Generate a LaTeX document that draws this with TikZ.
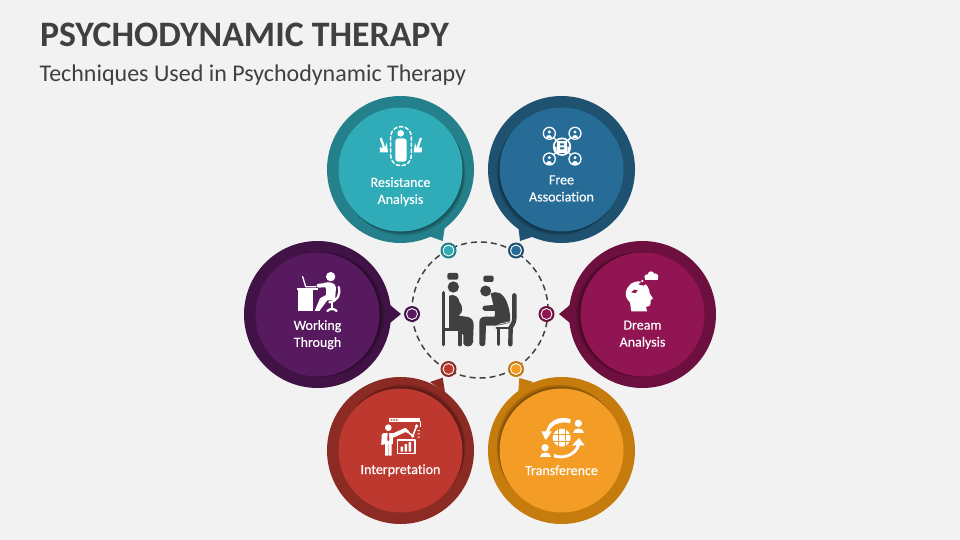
\documentclass[tikz,border=0pt]{standalone}
\usepackage{fontspec}
\setmainfont{Carlito}
\newfontfamily\labfont[FakeBold=0.25,Ligatures=NoCommon]{Carlito}
\usetikzlibrary{calc}
\definecolor{bg}{HTML}{F2F2F2}
\definecolor{ink}{HTML}{404040}
\definecolor{tealO}{HTML}{24808A}\definecolor{tealI}{HTML}{2FACB8}
\definecolor{blueO}{HTML}{1E5270}\definecolor{blueI}{HTML}{276C96}
\definecolor{purpO}{HTML}{411245}\definecolor{purpI}{HTML}{581A5F}
\definecolor{wineO}{HTML}{6E103F}\definecolor{wineI}{HTML}{921553}
\definecolor{redO}{HTML}{8C2A24}\definecolor{redI}{HTML}{BD382E}
\definecolor{orO}{HTML}{C67B0D}\definecolor{orI}{HTML}{F39D26}
\tikzset{
  ring/.style={circle,minimum size=147pt,inner sep=0pt,outer sep=0pt,fill=#1},
  disc/.style={circle,minimum size=124pt,inner sep=0pt,outer sep=0pt,fill=#1},
  blabel/.style={text=white,align=center,inner sep=0pt,font=\labfont\fontsize{14}{17}\selectfont},
  icon/.style={shift={#1},x=0.3333pt,y=-0.3333pt,line cap=round,line join=round},
  wl/.style={draw=white,line width=#1},
  dk/.style={draw=ink,line width=#1,line cap=round},
}
% name, cx, cy, outer, inner, tail a, tip, tail b, shadow offset
\newcommand{\bubble}[9]{%
  \node[ring=#4] (#1) at (#2,#3) {};
  \fill[#4] #6 -- #7 -- #8 -- cycle;
  \coordinate (#1s) at ($(#2,#3)+(#9)$);
  \foreach \s in {0.14,0.28,0.42,0.56,0.7,0.85,1}{
    \fill[black,opacity=0.06] ($(#2,#3)!\s!(#1s)$) circle (62);
  }
  \node[disc=#5] (#1i) at (#2,#3) {};
}
\newcommand{\marker}[5]{%
  \node[circle,fill=#4,minimum size=16pt,inner sep=0pt] (#1) at (#2,#3) {};
  \node[circle,fill=#5,draw=white,line width=0.9pt,minimum size=11pt,inner sep=0pt] (#1c) at (#2,#3) {};
}
\newcommand{\usr}[3]{% head centre x,y, colour
  \fill[#3] (#1,#2) circle (5);
  \fill[#3] ($(#1,#2)+(-9,18)$) .. controls ($(#1,#2)+(-9,7)$) and ($(#1,#2)+(9,7)$) .. ($(#1,#2)+(9,18)$) -- cycle;
}
\begin{document}
\begin{tikzpicture}[x=1pt,y=-1pt]
\useasboundingbox (0,0) rectangle (960,540);
\fill[bg] (0,0) rectangle (960,540);
\node[anchor=base west,inner sep=0pt,text=ink,font=\fontsize{35.8}{40}\selectfont\bfseries] (title) at (40,46.4) {PSYCHODYNAMIC THERAPY};
\node[anchor=base west,inner sep=0pt,text=ink,font=\fontsize{24}{28}\selectfont] (subtitle) at (39.5,82) {Techniques Used in Psychodynamic Therapy};

\bubble{res}{400.5}{169.5}{tealO}{tealI}{(445,226)}{(442.7,241)}{(430,236.5)}{3,4}
\bubble{fre}{561.5}{169.5}{blueO}{blueI}{(518.3,226)}{(520,241)}{(533.3,236.5)}{-3,4}
\bubble{wor}{317.5}{314.5}{purpO}{purpI}{(390,305)}{(401,314)}{(390,323)}{5,0}
\bubble{dre}{642.5}{314.5}{wineO}{wineI}{(570,305)}{(559,314)}{(570,323)}{-5,0}
\bubble{int}{400.5}{450.5}{redO}{redI}{(430,382)}{(442.7,377.7)}{(445,392)}{3,-4}
\bubble{tra}{561.5}{450.5}{orO}{orI}{(533.3,382)}{(519.3,378)}{(518.3,392)}{-3,-4}

\node[blabel] (resT) at (400.5,191.7) {Resistance\\Analysis};
\node[blabel] (freT) at (561.5,188.5) {Free\\Association};
\node[blabel] (worT) at (317.5,334.7) {Working\\Through};
\node[blabel] (dreT) at (642.5,334.7) {Dream\\Analysis};
\node[blabel,anchor=base] (intT) at (400.5,474) {Interpretation};
\node[blabel,anchor=base] (traT) at (561.5,475) {Transference};

% hub
\node[circle,draw=ink,line width=1.5pt,dash pattern=on 6pt off 4pt,minimum size=136pt,inner sep=0pt] (hub) at (480,310) {};
\marker{m1}{448.5}{250.5}{tealO}{tealI}
\marker{m2}{516}{250.5}{blueO}{blueI}
\marker{m3}{412}{314}{purpO}{purpI}
\marker{m4}{546.5}{314}{wineO}{wineI}
\marker{m5}{448.5}{369}{redO}{redI}
\marker{m6}{516}{369}{orO}{orI}

% centre figures
\begin{scope}[icon={(400,235)}]
  \fill[ink,rounded corners=2pt] (142,114) rectangle (175,134);
  \fill[ink] (160,156) circle (17);
  \draw[dk=3.6pt] (131,173) -- (131,329);
  \draw[dk=2.6pt] (134,284) -- (175,284);
  \draw[dk=3.6pt] (180,290) -- (180,329);
  \fill[ink] (147,182) .. controls (165,174) and (178,190) .. (178,200)
     .. controls (190,215) and (190,232) .. (176,242)
     -- (204,246) .. controls (216,250) and (221,258) .. (221,270)
     -- (219,322) .. controls (217,338) and (192,338) .. (190,325) -- (190,300)
     .. controls (185,292) and (165,282) .. (147,280) -- cycle;
  % right
  \fill[ink,rounded corners=2pt] (250,122) rectangle (281,141);
  \fill[ink] (257,168) circle (16.5);
  \fill[ink] (272,176) .. controls (290,165) and (310,175) .. (320,200)
     .. controls (330,225) and (332,250) .. (330,262)
     .. controls (315,268) and (300,270) .. (285,272)
     -- (258,272) -- (256,328) .. controls (252,336) and (240,336) .. (238,326)
     -- (238,262) .. controls (238,250) and (245,245) .. (258,245)
     -- (284,245) -- (285,228) -- (255,228) .. controls (245,225) and (245,213) .. (255,212)
     -- (280,210) -- cycle;
  \draw[dk=4.4pt] (343,181) -- (343,250) .. controls (343,265) and (335,270) .. (332,278) -- (331,328);
  \draw[dk=2.6pt] (290,279) -- (334,279);
  \draw[dk=3.6pt] (295,283) -- (295,328);
  \draw[bg,line width=0.6pt] (296,268) -- (330,260);
\end{scope}

% Resistance icon
\begin{scope}[icon={(370,120)}]
  \fill[white] (92,40) circle (10);
  \fill[white,rounded corners=3pt] (76,55) rectangle (110,125);
  \draw[white,line width=1.5pt,dash pattern=on 3.5pt off 2.5pt,rounded corners=10pt] (62,20) rectangle (124,137);
  \draw[wl=2.2pt,line cap=butt] (32,54) -- (44,88);
  \fill[white] (29,82) -- (45,84) -- (50,68) -- (54,97) -- (30,97) -- cycle;
  \draw[wl=2.2pt,line cap=butt] (153,54) -- (141,88);
  \fill[white] (156,82) -- (140,84) -- (135,68) -- (131,97) -- (155,97) -- cycle;
\end{scope}

% Free association icon
\begin{scope}[icon={(532,120)}]
  \draw[wl=1.3pt] (52,40) -- (129,117) (129,40) -- (52,117);
  \foreach \p in {(52,40),(129,40),(52,117),(129,117)}{
    \fill[blueI] \p circle (18);
    \draw[wl=1.3pt] \p circle (18);
  }
  \usr{52}{36}{white}
  \usr{129}{36}{white}
  \usr{52}{113}{white}
  \usr{129}{113}{white}
  \fill[blueI] (90,80) circle (25);
  \draw[wl=1.7pt] (90,80) circle (25);
  \fill[white] (76,64) rectangle (104,98);
  \fill[blueI] (84,70) rectangle (96,76) (84,82) rectangle (96,88);
  \fill[white] (66,80) rectangle (74,96) (106,80) rectangle (114,96);
\end{scope}

% Working icon
\begin{scope}[icon={(290,265)}]
  \fill[white] (122,35) circle (14);
  \fill[white] (20,68) rectangle (85,75);
  \fill[white] (23,75) rectangle (70,138);
  \draw[wl=1.3pt] (38,35) -- (47,65) -- (78,65);
  \draw[wl=4pt] (86,62) -- (112,60);
  \fill[white] (100,54) .. controls (120,48) and (137,54) .. (138,68) -- (135,106)
     -- (112,106) -- (88,138) -- (74,138) -- (90,100) -- (108,90) -- (108,72) -- cycle;
  \draw[wl=2.2pt] (146,66) .. controls (152,88) and (144,108) .. (118,112) ;
  \draw[wl=2.2pt] (126,112) -- (126,132);
  \draw[wl=2.2pt] (112,138) .. controls (118,130) and (134,130) .. (140,138);
\end{scope}

% Dream icon
\begin{scope}[icon={(615,265)}]
  \fill[white] (50,55) .. controls (30,70) and (25,95) .. (45,112) -- (49,139) -- (96,139) -- (93,125)
     .. controls (103,125) and (108,122) .. (107,106) -- (114,100) -- (104,85)
     .. controls (102,55) and (75,40) .. (50,55) -- cycle;
  \fill[wineI] (48,82) -- (58,74) -- (68,76) -- (62,84) -- cycle;
  \fill[wineI] (70,58) -- (80,50) -- (96,54) -- (86,62) -- cycle;
  \fill[white] (108,29) circle (10) (96,36) circle (8) (120,35) circle (10);
  \fill[white] (90,36) rectangle (128,44);
  \fill[white] (82,48) circle (3.5);
\end{scope}

% Interpretation icon
\begin{scope}[icon={(372,410)}]
  \fill[white] (52,25) rectangle (144,35);
  \fill[redI] (56,28) rectangle (61,32) (64,28) rectangle (69,32) (72,28) rectangle (77,32);
  \draw[wl=0.8pt] (144,35) -- (144,50);
  \fill[white] (137,60) rectangle (143,63) (137,70) rectangle (143,73) (137,80) rectangle (143,83);
  \fill[white] (49,53) circle (10);
  \fill[white] (34,69) rectangle (64,102);
  \fill[white] (39,102) rectangle (48,137) (50,102) rectangle (59,137);
  \draw[wl=3pt,line cap=butt] (34,72) -- (32,104);
  \fill[redI] (47,69) -- (51,69) -- (52,90) -- (49,94) -- (46,90) -- cycle;
  \draw[wl=4pt] (60,78) -- (100,60);
  \draw[wl=1.6pt] (106,64) -- (122,78) -- (134,48);
  \fill[white] (106,64) circle (5.5) (122,78) circle (5.5) (134,48) circle (5.5);
  \draw[wl=1.4pt] (77,90) rectangle (129,130);
  \fill[white] (86,110) rectangle (93,125) (98,102) rectangle (105,125) (110,96) rectangle (117,125);
\end{scope}

% Transference icon
\begin{scope}[icon={(532,410)}]
  \fill[white] (89,83) circle (27);
  \draw[orI,line width=1pt,line cap=butt] (79,55) -- (79,111) (99,55) -- (99,111) (61,73) -- (117,73) (61,93) -- (117,93);
  \fill[white] (116,28) .. controls (85,16) and (50,30) .. (42,64) -- (28,64) -- (41,90) -- (60,64) -- (51,64)
     .. controls (60,42) and (90,32) .. (114,40) -- cycle;
  \fill[white] (66,132) .. controls (95,144) and (126,130) .. (134,106) -- (120,106) -- (141,84) -- (158,106) -- (144,106)
     .. controls (136,137) and (95,152) .. (66,142) -- cycle;
  \fill[white] (139,40) circle (11) (39,113) circle (11);
  \fill[white] (123,68) .. controls (123,50) and (156,50) .. (156,68) -- cycle;
  \fill[white] (23,141) .. controls (23,122) and (56,122) .. (56,141) -- cycle;
\end{scope}
\end{tikzpicture}
\end{document}
